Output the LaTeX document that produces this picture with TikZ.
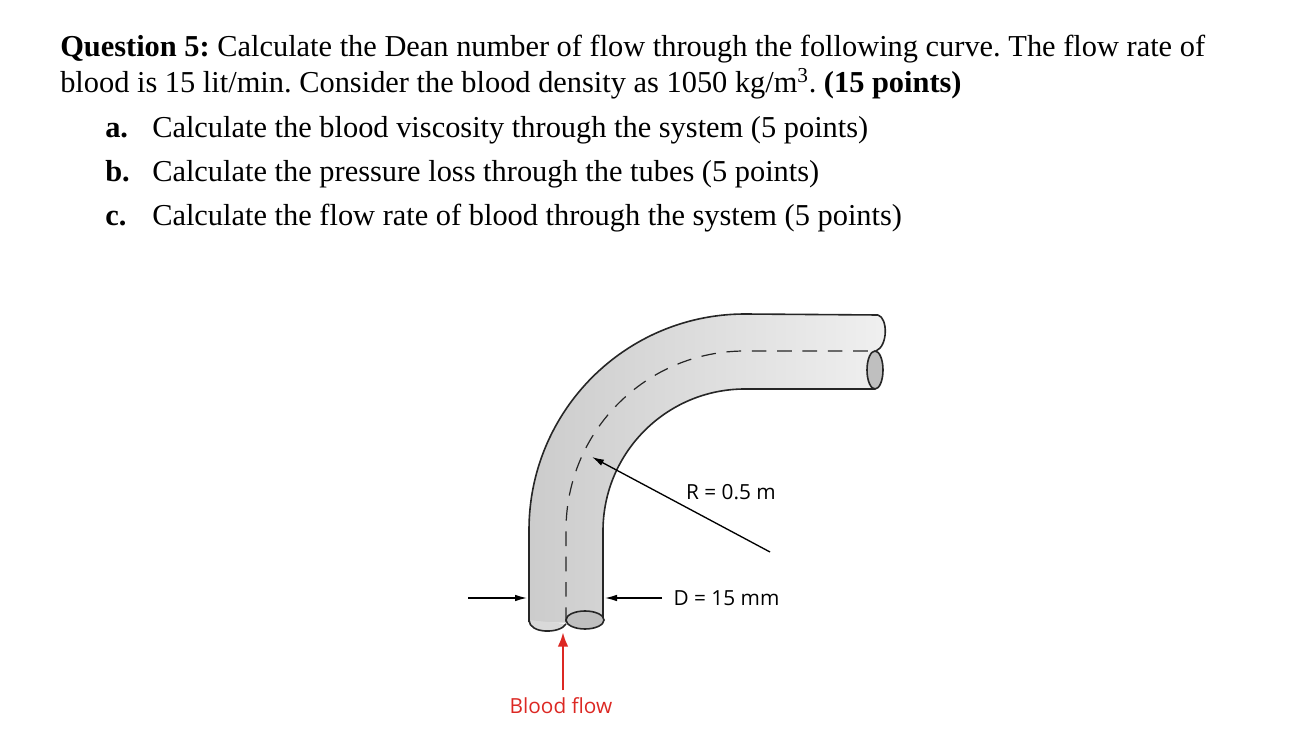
\documentclass[tikz,border=0pt]{standalone}
\usepackage{fontspec}
\setmainfont{Liberation Serif}
\newfontfamily\lblfont{Open Sans}
\frenchspacing
\begin{document}
\begin{tikzpicture}[x=0.75pt,y=-0.75pt,
  qtext/.style={anchor=base west,inner sep=0,font=\fontsize{22.8}{26}\selectfont},
  lbl/.style={font=\lblfont\fontsize{15.6}{18}\selectfont,inner sep=1pt},
  pipeline/.style={draw=black!85,line width=1.2pt},
  dimarrow/.style={-{Latex[length=9pt,width=5pt]},line width=1pt}]
\usetikzlibrary{arrows.meta}
\useasboundingbox (0,0) rectangle (1300,748);
% text
\node[qtext] (q1) at (60,57) {\textbf{Question 5:} Calculate the Dean number of flow through the following curve. The flow rate of};
\node[qtext] (q2) at (60,93) {blood is 15 lit/min. Consider the blood density as 1050 kg/m\textsuperscript{3}. \textbf{(15 points)}};
\node[qtext] (a) at (105,138) {\textbf{a.}};
\node[qtext] (at) at (152,138) {Calculate the blood viscosity through the system (5 points)};
\node[qtext] (b) at (105,182) {\textbf{b.}};
\node[qtext] (bt) at (152,182) {Calculate the pressure loss through the tubes (5 points)};
\node[qtext] (c) at (105,226) {\textbf{c.}};
\node[qtext] (ct) at (152,226) {Calculate the flow rate of blood through the system (5 points)};
% pipe body
\fill[left color=gray!40,right color=gray!12] (529,622) -- (529,530) arc[start angle=180,end angle=270,radius=216] -- (878,315)
  .. controls (888,318) and (888,346) .. (876,351) -- (875,389) -- (745,389)
  arc[start angle=270,end angle=180,radius=142] -- (603,622) -- cycle;
\draw[pipeline] (529,622) -- (529,530) arc[start angle=180,end angle=270,radius=216] -- (878,315);
\draw[pipeline] (875,389) -- (745,389) arc[start angle=270,end angle=180,radius=142] -- (603,622);
\draw[pipeline] (878,315) .. controls (888,318) and (888,346) .. (876,351);
\draw[pipeline,fill=gray!50] (875,370) ellipse[x radius=8,y radius=19];
\draw[black!85,line width=0.9pt,dash pattern=on 11pt off 8pt] (566,622) -- (566,530) arc[start angle=180,end angle=270,radius=179] -- (870,351);
% bottom end
\draw[pipeline,fill=gray!30] (529,620) .. controls (529,634) and (560,634) .. (566,624);
\draw[pipeline,fill=gray!50] (585,620) ellipse[x radius=19,y radius=9];
% annotations
\coordinate (rtail) at (770,552);
\coordinate (rhead) at (592,457);
\draw[dimarrow] (rtail) -- (rhead);
\node[lbl] (rl) at (731,492) {R = 0.5 m};
\coordinate (dl1) at (468,598);
\coordinate (dl2) at (527,598);
\coordinate (dr1) at (662,598);
\coordinate (dr2) at (605,598);
\draw[dimarrow] (dl1) -- (dl2);
\draw[dimarrow] (dr1) -- (dr2);
\node[lbl,anchor=west] (dlab) at (672,598) {D = 15 mm};
\node[lbl,text={rgb,255:red,220;green,40;blue,35}] (bf) at (561,706) {Blood flow};
\coordinate (bfh) at (563,632);
\draw[-{Latex[length=11pt,width=8pt]},line width=2pt,draw={rgb,255:red,220;green,40;blue,35}] (bf.north -| bfh) ++(0,-6) -- (bfh);
\end{tikzpicture}
\end{document}
